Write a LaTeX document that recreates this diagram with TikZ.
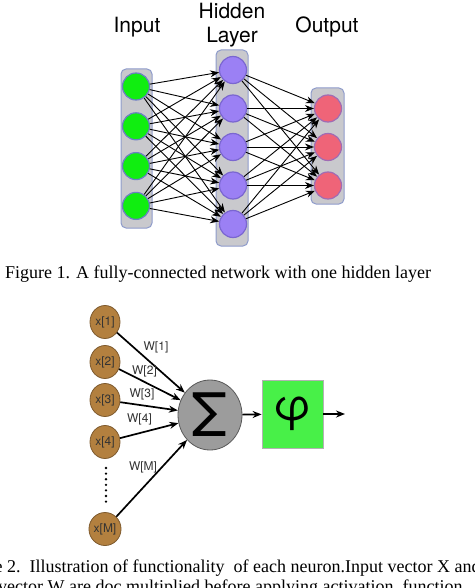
\documentclass[tikz,border=0pt]{standalone}
\usepackage{fontspec}
\setmainfont{Liberation Serif}
\newfontfamily\heros{TeX Gyre Heros}
\usetikzlibrary{arrows.meta,shapes.geometric}
\definecolor{colfill}{HTML}{C9C9CD}
\definecolor{coldraw}{HTML}{8E9BCB}
\definecolor{ingreen}{HTML}{10EE10}
\definecolor{inedge}{HTML}{6D7FC4}
\definecolor{hidpurple}{HTML}{9B80F4}
\definecolor{hidedge}{HTML}{7A66D0}
\definecolor{outred}{HTML}{EF6478}
\definecolor{outedge}{HTML}{A06CB4}
\definecolor{xbrown}{HTML}{B3803F}
\definecolor{xedge}{HTML}{7E5A2E}
\definecolor{sumgray}{HTML}{9C9C9C}
\definecolor{boxgreen}{HTML}{48F048}
\definecolor{labgray}{HTML}{333333}
\tikzset{
  colbox/.style={draw=coldraw, fill=colfill, line width=1pt, rounded corners=5pt, inner sep=0pt},
  neuron/.style={circle, inner sep=0pt, minimum size=27pt, line width=1.2pt},
  innode/.style={neuron, fill=ingreen, draw=inedge},
  hidnode/.style={neuron, fill=hidpurple, draw=hidedge},
  outnode/.style={neuron, fill=outred, draw=outedge},
  conn/.style={-{Stealth[length=9pt,width=7pt]}, line width=0.9pt, black},
  layerlabel/.style={font=\heros\fontsize{21}{24}\selectfont, anchor=base, inner sep=0pt},
  xnode/.style={ellipse, minimum width=30pt, minimum height=33pt, inner sep=0pt, fill=xbrown, draw=xedge, line width=0.8pt, font=\heros\fontsize{12}{13}\selectfont, text=labgray},
  wlabel/.style={font=\heros\fontsize{12}{13}\selectfont, text=labgray, inner sep=0pt},
  warrow/.style={-{Stealth[length=9pt,width=7pt]}, line width=1.7pt, black},
  caption/.style={font=\fontsize{18}{21}\selectfont, anchor=base west, inner sep=0pt}
}
\begin{document}
\begin{tikzpicture}[x=1pt,y=-1pt]
\useasboundingbox (0,0) rectangle (474,588);
\clip (0,0) rectangle (474,588);
% ---------- Figure 1 ----------
\node[colbox, minimum width=31pt, minimum height=159pt] (colin) at (136.5,148.5) {};
\node[colbox, minimum width=32pt, minimum height=196pt] (colhid) at (232,148) {};
\node[colbox, minimum width=33pt, minimum height=116pt] (colout) at (327.5,146) {};
\foreach \i/\y in {1/86.5,2/126.3,3/166.1,4/205.9}
  \node[innode] (i\i) at (136,\y) {};
\foreach \i/\y in {1/70,2/108.5,3/147,4/185.5,5/224}
  \node[hidnode] (h\i) at (233,\y) {};
\foreach \i/\y in {1/108.5,2/147,3/185.5}
  \node[outnode] (o\i) at (328,\y) {};
\foreach \a in {1,...,4}
  \foreach \b in {1,...,5}
    \draw[conn] (i\a) -- (h\b);
\foreach \a in {1,...,5}
  \foreach \b in {1,...,3}
    \draw[conn] (h\a) -- (o\b);
\node[layerlabel] (linput) at (137,33) {Input};
\node[layerlabel] (lhidden) at (232,19) {Hidden};
\node[layerlabel] (llayer) at (232,43) {Layer};
\node[layerlabel] (loutput) at (327,33) {Output};
\node[caption] (cap1) at (5,278) {Figure 1. A fully-connected network with one hidden layer};
% ---------- Figure 2 ----------
\node[xnode] (x1) at (105,322) {x[1]};
\node[xnode] (x2) at (105,362) {x[2]};
\node[xnode] (x3) at (105,400) {x[3]};
\node[xnode] (x4) at (105,442) {x[4]};
\node[xnode] (xM) at (105,529) {x[M]};
\foreach \k in {0,...,6}
  \fill (106,468+5.6*\k) circle (1.3pt);
\node[ellipse, minimum width=64pt, minimum height=70pt, inner sep=0pt, fill=sumgray, draw=gray!70!black, line width=0.8pt,
      font=\heros\fontsize{60}{60}\selectfont] (sum) at (210,415) {\raisebox{-2pt}{Σ}};
\node[rectangle, minimum width=61pt, minimum height=68pt, inner sep=0pt, fill=boxgreen, draw=gray!60, line width=0.8pt,
      font=\heros\fontsize{44}{44}\selectfont] (phi) at (292.5,414) {φ};
\coordinate (outend) at (345,414);
\draw[warrow] (x1) -- (sum);
\draw[warrow] (x2) -- (sum);
\draw[warrow] (x3) -- (sum);
\draw[warrow] (x4) -- (sum);
\draw[warrow] (xM) -- (sum);
\draw[warrow] (sum) -- (phi);
\draw[warrow] (phi) -- (outend);
\node[wlabel] (w1) at (156,347.5) {W[1]};
\node[wlabel] (w2) at (144.5,371) {W[2]};
\node[wlabel] (w3) at (142,394) {W[3]};
\node[wlabel] (w4) at (139.5,419) {W[4]};
\node[wlabel] (wM) at (143,467.5) {W[M]};
\node[caption] (cap2a) at (7,572) {\llap{Figure }2.\ \ Illustration of functionality\ \ of each neuron.Input vector X and};
\node[caption] (cap2b) at (-2,592) {vector W are doc multiplied before applying activation\ \ function ,};
\end{tikzpicture}
\end{document}
